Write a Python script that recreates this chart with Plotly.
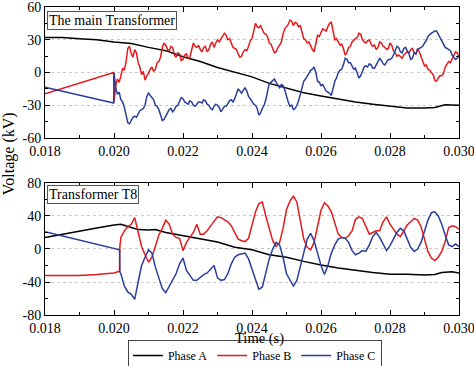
import numpy as np
import plotly.graph_objects as go

# ---------------- data ----------------
# Top panel: The main Transformer
t_black_top = [0.0180, 0.0185, 0.0190, 0.0195, 0.0200, 0.0205, 0.0210, 0.0215, 0.0220, 0.0225,
               0.0230, 0.0235, 0.0240, 0.0245, 0.0250, 0.0255, 0.0260, 0.0265, 0.0270, 0.0275,
               0.0280, 0.0285, 0.0290, 0.0293, 0.0296, 0.0300]
top_black = [32, 32, 31, 30, 28, 26.5, 23, 20, 14.5, 10,
             4.5, 0, -4, -10, -14, -18.5, -21.5, -24.5, -27, -29,
             -31, -32.5, -32.5, -32, -29.5, -30]

t_pre_top = [0.0180, 0.01999]
top_red_pre = [-19.5, 0]
top_blue_pre = [-13.5, -28]

# samples every 0.1 ms from 0.0200 s, plus half-step samples in between
t_fault_top = np.round(np.arange(0.0200, 0.03001, 0.0001), 4)
t_fault_top_mid = np.round(np.arange(0.02005, 0.03, 0.0001), 5)
top_red = [-27, -6, -3, 2, 22, 17, 21, 9, -2, -7,
           -1, 5, 3, 10, 23, 25, 20, 23, 14, 17,
           12, 17, 14, 27, 23, 21, 23, 19, 26, 23,
           30, 31, 36, 30, 27, 22, 17, 15, 21, 24,
           31, 45, 41, 40, 35, 27, 22, 19, 25, 35,
           42, 48, 43, 45, 43, 31, 27, 24, 19, 34,
           37, 39, 42, 46, 30, 28, 26, 16, 23, 28,
           31, 36, 30, 27, 30, 24, 21, 28, 24, 21,
           27, 20, 15, 14, 16, 19, 21, 18, 22, 14,
           6, 3, 0, -7, -5, -3, 5, 10, 12, 19, 14]
top_red_mid = [-12, -9, 4, 10, 24, 14, 18, 5, 1, -3,
               3, 1, 9, 14, 27, 21, 24, 16, 18, 11,
               16, 13, 20, 24, 25, 19, 24, 21, 28, 27,
               28, 33, 34, 31, 23, 21, 14, 19, 20, 29,
               38, 42, 43, 36, 33, 26, 18, 23, 28, 40,
               44, 47, 46, 42, 38, 30, 28, 21, 27, 33,
               40, 38, 45, 37, 31, 25, 22, 18, 24, 30,
               32, 35, 28, 29, 26, 25, 23, 27, 23, 22,
               25, 18, 16, 13, 18, 18, 22, 17, 19, 11,
               7, 2, -2, -8, -3, -1, 8, 9, 16, 18]
top_blue = [0, -20, -25, -32, -46, -44, -40, -38, -34, -30,
            -19, -22, -30, -34, -44, -40, -34, -36, -31, -26,
            -24, -28, -26, -30, -29, -27, -25, -29, -33, -31,
            -30, -36, -31, -28, -25, -24, -15, -19, -14, -22,
            -27, -30, -39, -33, -25, -10, -7, -9, -14, -12,
            -22, -31, -34, -30, -20, -8, -3, 2, 5, -8,
            -12, -14, -18, -21, -8, 0, 3, 13, 9, 6,
            4, -5, 2, 6, 8, 4, 7, 13, 8, 10,
            12, 16, 24, 19, 22, 20, 12, 18, 21, 23,
            27, 33, 36, 38, 35, 30, 23, 21, 16, 12, 16]
top_blue_mid = [-14, -18, -27, -38, -47, -41, -41, -35, -33, -22,
                -21, -25, -31, -40, -43, -38, -33, -34, -30, -23,
                -27, -29, -27, -31, -27, -28, -26, -30, -34, -29,
                -32, -34, -31, -26, -27, -20, -17, -16, -17, -24,
                -29, -33, -37, -30, -17, -9, -6, -12, -11, -16,
                -27, -30, -33, -26, -13, -6, -1, 3, 0, -9,
                -11, -17, -19, -14, -5, 2, 7, 12, 9, 3,
                0, -3, 5, 5, 7, 4, 10, 11, 7, 12,
                13, 21, 23, 18, 23, 17, 13, 17, 22, 24,
                29, 35, 37, 38, 33, 27, 22, 20, 14, 13]

# Bottom panel: Transformer T8
t_black_bot = [0.0180, 0.0185, 0.0190, 0.0195, 0.0200, 0.0202, 0.0205, 0.0207, 0.0210, 0.0212,
               0.0215, 0.0220, 0.0225, 0.0230, 0.0235, 0.0240, 0.0245, 0.0250, 0.0255, 0.0260,
               0.0265, 0.0270, 0.0275, 0.0280, 0.0285, 0.0290, 0.0293, 0.0295, 0.0298, 0.0300]
bot_black = [14, 18, 22, 25.5, 29, 30, 26, 23.5, 23, 23.5,
             20, 16, 12, 8.5, 2, -1, -7, -10, -15, -19.5,
             -23, -26, -28.5, -30.5, -30.5, -31.5, -31, -28.5, -27.5, -29]

t_pre_red_bot = [0.0180, 0.0190, 0.0195, 0.0200, 0.02016, 0.02017]
bot_red_pre = [-32, -32, -31, -29, -27, 3]
t_pre_blue_bot = [0.0180, 0.02016, 0.02017]
bot_blue_pre = [21, -1, -28]

t_fault_bot = np.round(np.arange(0.0202, 0.03001, 0.0001), 4)
bot_red = [14, 22, 27, 30, 38, 22, 3, -7, -16, -10,
           5, 17, 25, 35, 30, 18, 14, 13, -2, 8,
           14, 20, 30, 18, 18, 22, 28, 34, 39, 38,
           36, 33, 28, 20, 12, 10, 9, 13, 30, 45,
           55, 57, 40, 25, 10, 3, 8, 25, 48, 58,
           64, 57, 35, 12, 2, -1, 8, 28, 47, 56,
           52, 45, 32, 18, 14, 13, 16, 22, 36, 39,
           37, 28, 18, 20, 22, 22, 33, 39, 30, 24,
           18, 15, 22, 29, 33, 37, 35, 27, 12, -3,
           -11, -14, -10, -3, 9, 26, 28, 27, 24]
bot_blue = [-30, -45, -52, -55, -61, -40, -20, -10, -1, -5,
            -22, -35, -48, -53, -45, -38, -30, -18, -11, -26,
            -32, -38, -38, -34, -31, -29, -25, -20, -35, -38,
            -37, -30, -18, -10, -7, -6, -5, -12, -25, -37,
            -49, -46, -30, -12, 0, 8, 5, -10, -30, -38,
            -45, -38, -22, -5, 12, 19, 10, -5, -20, -31,
            -20, -5, 5, 12, 14, 13, 8, -2, -7, -5,
            -2, -3, 5, 15, 20, 14, 5, -2, 4, 12,
            20, 25, 22, 12, 2, -3, 0, 8, 22, 35,
            44, 45, 40, 30, 17, 5, 3, 6, 3]

x_ticks = [0.018, 0.020, 0.022, 0.024, 0.026, 0.028, 0.030]
x_ticktext = ["0.018", "0.020", "0.022", "0.024", "0.026", "0.028", "0.030"]
top_yticks = [-60, -30, 0, 30, 60]
bot_yticks = [-80, -40, 0, 40, 80]

# ---------------- styling ----------------
BLACK = "#000000"
RED = "#e41a1c"
BLUE = "#2a3f9d"
FONT = "Liberation Serif, Times New Roman, serif"
LW = 1.5


def interleave(t_main, v_main, t_mid, v_mid):
    t_all = list(t_main) + list(t_mid)
    v_all = list(v_main) + list(v_mid)
    order = np.argsort(t_all)
    return [t_all[i] for i in order], [v_all[i] for i in order]


top_red_t, top_red_v = interleave(t_fault_top, top_red, t_fault_top_mid, top_red_mid)
top_blue_t, top_blue_v = interleave(t_fault_top, top_blue, t_fault_top_mid, top_blue_mid)

fig = go.Figure()


def add(x, y, color, name, xa, ya, show):
    fig.add_trace(go.Scatter(x=list(x), y=list(y), mode="lines", name=name,
                             line=dict(color=color, width=LW), xaxis=xa, yaxis=ya,
                             showlegend=show, legendgroup=name))


# top panel
add(t_black_top, top_black, BLACK, "Phase A", "x", "y", True)
add(list(t_pre_top) + top_red_t, top_red_pre + top_red_v, RED, "Phase B", "x", "y", True)
add(list(t_pre_top) + top_blue_t, top_blue_pre + top_blue_v, BLUE, "Phase C", "x", "y", True)
# bottom panel
add(t_black_bot, bot_black, BLACK, "Phase A", "x2", "y2", False)
add(list(t_pre_red_bot) + list(t_fault_bot), bot_red_pre + bot_red, RED, "Phase B", "x2", "y2", False)
add(list(t_pre_blue_bot) + list(t_fault_bot), bot_blue_pre + bot_blue, BLUE, "Phase C", "x2", "y2", False)

xaxis_common = dict(range=[0.018, 0.030], tickvals=x_ticks, ticktext=x_ticktext,
                    showline=True, linecolor="black", linewidth=1, mirror="allticks",
                    ticks="inside", ticklen=5, tickcolor="black", showgrid=False, zeroline=False,
                    ticklabeloverflow="allow",
                    minor=dict(ticks="inside", ticklen=3, dtick=0.001, tick0=0.018, tickcolor="black"),
                    tickfont=dict(family=FONT, size=14, color="black"))


def yaxis_common(rng, ticks, minor_dtick, domain, anchor):
    return dict(range=rng, tickvals=ticks, ticktext=[str(v) for v in ticks],
                showline=True, linecolor="black", linewidth=1, mirror="allticks",
                ticks="inside", ticklen=5, tickcolor="black", ticklabeloverflow="allow",
                showgrid=True, gridcolor="#c8c8c8", griddash="dot", gridwidth=1,
                zeroline=False, domain=domain, anchor=anchor,
                minor=dict(ticks="inside", ticklen=3, dtick=minor_dtick, tick0=rng[0], tickcolor="black",
                           showgrid=False),
                tickfont=dict(family=FONT, size=14, color="black"))


fig.update_layout(
    width=474, height=366,
    margin=dict(l=45, r=15, t=7, b=51, autoexpand=False),
    paper_bgcolor="white", plot_bgcolor="white",
    font=dict(family=FONT, size=14, color="black"),
    xaxis=dict(**xaxis_common, anchor="y"),
    yaxis=yaxis_common([-60, 60], top_yticks, 15, [0.5747, 1.0], "x"),
    xaxis2=dict(**xaxis_common, anchor="y2"),
    yaxis2=yaxis_common([-80, 80], bot_yticks, 20, [0.0, 0.4286], "x2"),
    legend=dict(orientation="h", x=0.507, xanchor="center", y=-0.0812, yanchor="top",
                bordercolor="#444444", borderwidth=1, font=dict(family=FONT, size=12),
                itemwidth=30, tracegroupgap=0),
    annotations=[
        dict(text="Time (s)", xref="paper", yref="paper", x=0.517, y=-0.0747,
             xanchor="center", yanchor="middle", showarrow=False,
             font=dict(family=FONT, size=14.5)),
        dict(text="The main Transformer", xref="paper", yref="paper", x=0.005, y=0.987,
             xanchor="left", yanchor="top", showarrow=False, bgcolor="white",
             bordercolor="#555555", borderwidth=1, borderpad=1,
             font=dict(family=FONT, size=14)),
        dict(text="Transformer T8", xref="paper", yref="paper", x=0.005, y=0.422,
             xanchor="left", yanchor="top", showarrow=False, bgcolor="white",
             bordercolor="#555555", borderwidth=1, borderpad=1,
             font=dict(family=FONT, size=14)),
        dict(text="Voltage (kV)", xref="paper", yref="paper", x=-0.088, y=0.524,
             xanchor="center", yanchor="middle", showarrow=False, textangle=-90,
             font=dict(family=FONT, size=16)),
    ],
)

fig.write_html("out.html", config={"displayModeBar": False},
               post_script="document.body.style.margin='0';document.body.style.overflow='hidden';")
